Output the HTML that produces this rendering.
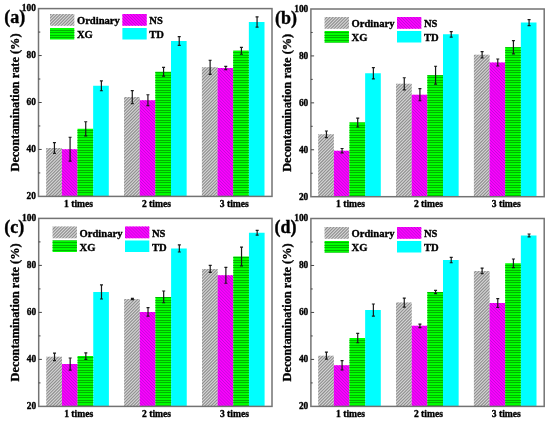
<!DOCTYPE html>
<html><head><meta charset="utf-8"><style>
html,body{margin:0;padding:0;background:#fff;width:550px;height:421px;overflow:hidden}
svg{display:block;filter:blur(0.3px)}
text{font-family:"Liberation Serif", serif;font-weight:bold;fill:#000;stroke:#000;stroke-width:0.35px}
</style></head><body>
<svg width="550" height="421" viewBox="0 0 550 421">
<defs>
<clipPath id="c0"><rect x="46.2" y="148.04" width="15.65" height="48.36"/><rect x="124.05" y="97.1" width="15.65" height="99.3"/><rect x="201.9" y="67.29" width="15.65" height="129.11"/><rect x="50" y="14.1" width="24.3" height="11.7"/><rect x="318.2" y="134.29" width="15.65" height="62.41"/><rect x="396.05" y="83.85" width="15.65" height="112.85"/><rect x="473.9" y="54.75" width="15.65" height="141.95"/><rect x="324.6" y="17.1" width="24.3" height="11.7"/><rect x="46.3" y="356.81" width="15.65" height="49.58"/><rect x="124.15" y="299" width="15.65" height="107.39"/><rect x="202" y="268.93" width="15.65" height="137.47"/><rect x="52.6" y="226.6" width="24.3" height="11.7"/><rect x="318.2" y="355.67" width="15.65" height="50.73"/><rect x="396.05" y="302.59" width="15.65" height="103.81"/><rect x="473.9" y="270.88" width="15.65" height="135.52"/><rect x="324.6" y="227.1" width="24.3" height="11.7"/></clipPath>
<clipPath id="c1"><rect x="61.85" y="149.22" width="15.65" height="47.18"/><rect x="139.7" y="100.15" width="15.65" height="96.25"/><rect x="217.55" y="67.99" width="15.65" height="128.41"/><rect x="122.4" y="14.1" width="24.3" height="11.7"/><rect x="333.85" y="150.71" width="15.65" height="45.99"/><rect x="411.7" y="94.64" width="15.65" height="102.06"/><rect x="489.55" y="62.49" width="15.65" height="134.21"/><rect x="397" y="17.1" width="24.3" height="11.7"/><rect x="61.95" y="364.1" width="15.65" height="42.3"/><rect x="139.8" y="311.93" width="15.65" height="94.47"/><rect x="217.65" y="275.27" width="15.65" height="131.13"/><rect x="125" y="226.6" width="24.3" height="11.7"/><rect x="333.85" y="365.3" width="15.65" height="41.1"/><rect x="411.7" y="325.84" width="15.65" height="80.56"/><rect x="489.55" y="303.05" width="15.65" height="103.35"/><rect x="397" y="227.1" width="24.3" height="11.7"/></clipPath>
<clipPath id="c2"><rect x="77.5" y="128.79" width="15.65" height="67.61"/><rect x="155.35" y="71.75" width="15.65" height="124.65"/><rect x="233.2" y="50.85" width="15.65" height="145.55"/><rect x="50" y="27.9" width="24.3" height="11.7"/><rect x="349.5" y="122.56" width="15.65" height="74.14"/><rect x="427.35" y="75.16" width="15.65" height="121.54"/><rect x="505.2" y="47.24" width="15.65" height="149.46"/><rect x="324.6" y="30.9" width="24.3" height="11.7"/><rect x="77.6" y="356.11" width="15.65" height="50.29"/><rect x="155.45" y="296.89" width="15.65" height="109.51"/><rect x="233.3" y="256.47" width="15.65" height="149.93"/><rect x="52.6" y="240.4" width="24.3" height="11.7"/><rect x="349.5" y="338.05" width="15.65" height="68.35"/><rect x="427.35" y="292.02" width="15.65" height="114.38"/><rect x="505.2" y="263.36" width="15.65" height="143.04"/><rect x="324.6" y="240.9" width="24.3" height="11.7"/></clipPath>
</defs>
<path fill="#d8d8d8" d="M46.2 148.04h15.65v48.36h-15.65zM124.05 97.1h15.65v99.3h-15.65zM201.9 67.29h15.65v129.11h-15.65zM50 14.1h24.3v11.7h-24.3zM318.2 134.29h15.65v62.41h-15.65zM396.05 83.85h15.65v112.85h-15.65zM473.9 54.75h15.65v141.95h-15.65zM324.6 17.1h24.3v11.7h-24.3zM46.3 356.81h15.65v49.58h-15.65zM124.15 299h15.65v107.39h-15.65zM202 268.93h15.65v137.47h-15.65zM52.6 226.6h24.3v11.7h-24.3zM318.2 355.67h15.65v50.73h-15.65zM396.05 302.59h15.65v103.81h-15.65zM473.9 270.88h15.65v135.52h-15.65zM324.6 227.1h24.3v11.7h-24.3z"/>
<path fill="#ff00ff" d="M61.85 149.22h15.65v47.18h-15.65zM139.7 100.15h15.65v96.25h-15.65zM217.55 67.99h15.65v128.41h-15.65zM122.4 14.1h24.3v11.7h-24.3zM333.85 150.71h15.65v45.99h-15.65zM411.7 94.64h15.65v102.06h-15.65zM489.55 62.49h15.65v134.21h-15.65zM397 17.1h24.3v11.7h-24.3zM61.95 364.1h15.65v42.3h-15.65zM139.8 311.93h15.65v94.47h-15.65zM217.65 275.27h15.65v131.13h-15.65zM125 226.6h24.3v11.7h-24.3zM333.85 365.3h15.65v41.1h-15.65zM411.7 325.84h15.65v80.56h-15.65zM489.55 303.05h15.65v103.35h-15.65zM397 227.1h24.3v11.7h-24.3z"/>
<path fill="#00ff00" d="M77.5 128.79h15.65v67.61h-15.65zM155.35 71.75h15.65v124.65h-15.65zM233.2 50.85h15.65v145.55h-15.65zM50 27.9h24.3v11.7h-24.3zM349.5 122.56h15.65v74.14h-15.65zM427.35 75.16h15.65v121.54h-15.65zM505.2 47.24h15.65v149.46h-15.65zM324.6 30.9h24.3v11.7h-24.3zM77.6 356.11h15.65v50.29h-15.65zM155.45 296.89h15.65v109.51h-15.65zM233.3 256.47h15.65v149.93h-15.65zM52.6 240.4h24.3v11.7h-24.3zM349.5 338.05h15.65v68.35h-15.65zM427.35 292.02h15.65v114.38h-15.65zM505.2 263.36h15.65v143.04h-15.65zM324.6 240.9h24.3v11.7h-24.3z"/>
<path fill="#00ffff" d="M93.15 85.83h15.65v110.57h-15.65zM171 41h15.65v155.4h-15.65zM248.85 21.98h15.65v174.42h-15.65zM122.4 27.9h24.3v11.7h-24.3zM365.15 73.29h15.65v123.41h-15.65zM443 34.34h15.65v162.36h-15.65zM520.85 22.61h15.65v174.09h-15.65zM397 30.9h24.3v11.7h-24.3zM93.25 291.95h15.65v114.44h-15.65zM171.1 248.48h15.65v157.92h-15.65zM248.95 232.73h15.65v173.66h-15.65zM125 240.4h24.3v11.7h-24.3zM365.15 310.1h15.65v96.3h-15.65zM443 260.07h15.65v146.33h-15.65zM520.85 235.41h15.65v170.99h-15.65zM397 240.9h24.3v11.7h-24.3z"/>
<path clip-path="url(#c0)" stroke="#8e8e8e" stroke-width="1.1" fill="none" d="M0 0L-421 421M3.1 0L-417.9 421M6.2 0L-414.8 421M9.3 0L-411.7 421M12.4 0L-408.6 421M15.5 0L-405.5 421M18.6 0L-402.4 421M21.7 0L-399.3 421M24.8 0L-396.2 421M27.9 0L-393.1 421M31 0L-390 421M34.1 0L-386.9 421M37.2 0L-383.8 421M40.3 0L-380.7 421M43.4 0L-377.6 421M46.5 0L-374.5 421M49.6 0L-371.4 421M52.7 0L-368.3 421M55.8 0L-365.2 421M58.9 0L-362.1 421M62 0L-359 421M65.1 0L-355.9 421M68.2 0L-352.8 421M71.3 0L-349.7 421M74.4 0L-346.6 421M77.5 0L-343.5 421M80.6 0L-340.4 421M83.7 0L-337.3 421M86.8 0L-334.2 421M89.9 0L-331.1 421M93 0L-328 421M96.1 0L-324.9 421M99.2 0L-321.8 421M102.3 0L-318.7 421M105.4 0L-315.6 421M108.5 0L-312.5 421M111.6 0L-309.4 421M114.7 0L-306.3 421M117.8 0L-303.2 421M120.9 0L-300.1 421M124 0L-297 421M127.1 0L-293.9 421M130.2 0L-290.8 421M133.3 0L-287.7 421M136.4 0L-284.6 421M139.5 0L-281.5 421M142.6 0L-278.4 421M145.7 0L-275.3 421M148.8 0L-272.2 421M151.9 0L-269.1 421M155 0L-266 421M158.1 0L-262.9 421M161.2 0L-259.8 421M164.3 0L-256.7 421M167.4 0L-253.6 421M170.5 0L-250.5 421M173.6 0L-247.4 421M176.7 0L-244.3 421M179.8 0L-241.2 421M182.9 0L-238.1 421M186 0L-235 421M189.1 0L-231.9 421M192.2 0L-228.8 421M195.3 0L-225.7 421M198.4 0L-222.6 421M201.5 0L-219.5 421M204.6 0L-216.4 421M207.7 0L-213.3 421M210.8 0L-210.2 421M213.9 0L-207.1 421M217 0L-204 421M220.1 0L-200.9 421M223.2 0L-197.8 421M226.3 0L-194.7 421M229.4 0L-191.6 421M232.5 0L-188.5 421M235.6 0L-185.4 421M238.7 0L-182.3 421M241.8 0L-179.2 421M244.9 0L-176.1 421M248 0L-173 421M251.1 0L-169.9 421M254.2 0L-166.8 421M257.3 0L-163.7 421M260.4 0L-160.6 421M263.5 0L-157.5 421M266.6 0L-154.4 421M269.7 0L-151.3 421M272.8 0L-148.2 421M275.9 0L-145.1 421M279 0L-142 421M282.1 0L-138.9 421M285.2 0L-135.8 421M288.3 0L-132.7 421M291.4 0L-129.6 421M294.5 0L-126.5 421M297.6 0L-123.4 421M300.7 0L-120.3 421M303.8 0L-117.2 421M306.9 0L-114.1 421M310 0L-111 421M313.1 0L-107.9 421M316.2 0L-104.8 421M319.3 0L-101.7 421M322.4 0L-98.6 421M325.5 0L-95.5 421M328.6 0L-92.4 421M331.7 0L-89.3 421M334.8 0L-86.2 421M337.9 0L-83.1 421M341 0L-80 421M344.1 0L-76.9 421M347.2 0L-73.8 421M350.3 0L-70.7 421M353.4 0L-67.6 421M356.5 0L-64.5 421M359.6 0L-61.4 421M362.7 0L-58.3 421M365.8 0L-55.2 421M368.9 0L-52.1 421M372 0L-49 421M375.1 0L-45.9 421M378.2 0L-42.8 421M381.3 0L-39.7 421M384.4 0L-36.6 421M387.5 0L-33.5 421M390.6 0L-30.4 421M393.7 0L-27.3 421M396.8 0L-24.2 421M399.9 0L-21.1 421M403 0L-18 421M406.1 0L-14.9 421M409.2 0L-11.8 421M412.3 0L-8.7 421M415.4 0L-5.6 421M418.5 0L-2.5 421M421.6 0L0.6 421M424.7 0L3.7 421M427.8 0L6.8 421M430.9 0L9.9 421M434 0L13 421M437.1 0L16.1 421M440.2 0L19.2 421M443.3 0L22.3 421M446.4 0L25.4 421M449.5 0L28.5 421M452.6 0L31.6 421M455.7 0L34.7 421M458.8 0L37.8 421M461.9 0L40.9 421M465 0L44 421M468.1 0L47.1 421M471.2 0L50.2 421M474.3 0L53.3 421M477.4 0L56.4 421M480.5 0L59.5 421M483.6 0L62.6 421M486.7 0L65.7 421M489.8 0L68.8 421M492.9 0L71.9 421M496 0L75 421M499.1 0L78.1 421M502.2 0L81.2 421M505.3 0L84.3 421M508.4 0L87.4 421M511.5 0L90.5 421M514.6 0L93.6 421M517.7 0L96.7 421M520.8 0L99.8 421M523.9 0L102.9 421M527 0L106 421M530.1 0L109.1 421M533.2 0L112.2 421M536.3 0L115.3 421M539.4 0L118.4 421M542.5 0L121.5 421M545.6 0L124.6 421M548.7 0L127.7 421M551.8 0L130.8 421M554.9 0L133.9 421M558 0L137 421M561.1 0L140.1 421M564.2 0L143.2 421M567.3 0L146.3 421M570.4 0L149.4 421M573.5 0L152.5 421M576.6 0L155.6 421M579.7 0L158.7 421M582.8 0L161.8 421M585.9 0L164.9 421M589 0L168 421M592.1 0L171.1 421M595.2 0L174.2 421M598.3 0L177.3 421M601.4 0L180.4 421M604.5 0L183.5 421M607.6 0L186.6 421M610.7 0L189.7 421M613.8 0L192.8 421M616.9 0L195.9 421M620 0L199 421M623.1 0L202.1 421M626.2 0L205.2 421M629.3 0L208.3 421M632.4 0L211.4 421M635.5 0L214.5 421M638.6 0L217.6 421M641.7 0L220.7 421M644.8 0L223.8 421M647.9 0L226.9 421M651 0L230 421M654.1 0L233.1 421M657.2 0L236.2 421M660.3 0L239.3 421M663.4 0L242.4 421M666.5 0L245.5 421M669.6 0L248.6 421M672.7 0L251.7 421M675.8 0L254.8 421M678.9 0L257.9 421M682 0L261 421M685.1 0L264.1 421M688.2 0L267.2 421M691.3 0L270.3 421M694.4 0L273.4 421M697.5 0L276.5 421M700.6 0L279.6 421M703.7 0L282.7 421M706.8 0L285.8 421M709.9 0L288.9 421M713 0L292 421M716.1 0L295.1 421M719.2 0L298.2 421M722.3 0L301.3 421M725.4 0L304.4 421M728.5 0L307.5 421M731.6 0L310.6 421M734.7 0L313.7 421M737.8 0L316.8 421M740.9 0L319.9 421M744 0L323 421M747.1 0L326.1 421M750.2 0L329.2 421M753.3 0L332.3 421M756.4 0L335.4 421M759.5 0L338.5 421M762.6 0L341.6 421M765.7 0L344.7 421M768.8 0L347.8 421M771.9 0L350.9 421M775 0L354 421M778.1 0L357.1 421M781.2 0L360.2 421M784.3 0L363.3 421M787.4 0L366.4 421M790.5 0L369.5 421M793.6 0L372.6 421M796.7 0L375.7 421M799.8 0L378.8 421M802.9 0L381.9 421M806 0L385 421M809.1 0L388.1 421M812.2 0L391.2 421M815.3 0L394.3 421M818.4 0L397.4 421M821.5 0L400.5 421M824.6 0L403.6 421M827.7 0L406.7 421M830.8 0L409.8 421M833.9 0L412.9 421M837 0L416 421M840.1 0L419.1 421M843.2 0L422.2 421M846.3 0L425.3 421M849.4 0L428.4 421M852.5 0L431.5 421M855.6 0L434.6 421M858.7 0L437.7 421M861.8 0L440.8 421M864.9 0L443.9 421M868 0L447 421M871.1 0L450.1 421M874.2 0L453.2 421M877.3 0L456.3 421M880.4 0L459.4 421M883.5 0L462.5 421M886.6 0L465.6 421M889.7 0L468.7 421M892.8 0L471.8 421M895.9 0L474.9 421M899 0L478 421M902.1 0L481.1 421M905.2 0L484.2 421M908.3 0L487.3 421M911.4 0L490.4 421M914.5 0L493.5 421M917.6 0L496.6 421M920.7 0L499.7 421M923.8 0L502.8 421M926.9 0L505.9 421M930 0L509 421M933.1 0L512.1 421M936.2 0L515.2 421M939.3 0L518.3 421M942.4 0L521.4 421M945.5 0L524.5 421M948.6 0L527.6 421M951.7 0L530.7 421M954.8 0L533.8 421M957.9 0L536.9 421M961 0L540 421M964.1 0L543.1 421M967.2 0L546.2 421M970.3 0L549.3 421M973.4 0L552.4 421"/>
<path clip-path="url(#c1)" stroke="#bc10d8" stroke-width="1.0" fill="none" d="M-426 0L-5 421M-422.92 0L-1.92 421M-419.84 0L1.16 421M-416.76 0L4.24 421M-413.68 0L7.32 421M-410.6 0L10.4 421M-407.52 0L13.48 421M-404.44 0L16.56 421M-401.36 0L19.64 421M-398.28 0L22.72 421M-395.2 0L25.8 421M-392.12 0L28.88 421M-389.04 0L31.96 421M-385.96 0L35.04 421M-382.88 0L38.12 421M-379.8 0L41.2 421M-376.72 0L44.28 421M-373.64 0L47.36 421M-370.56 0L50.44 421M-367.48 0L53.52 421M-364.4 0L56.6 421M-361.32 0L59.68 421M-358.24 0L62.76 421M-355.16 0L65.84 421M-352.08 0L68.92 421M-349 0L72 421M-345.92 0L75.08 421M-342.84 0L78.16 421M-339.76 0L81.24 421M-336.68 0L84.32 421M-333.6 0L87.4 421M-330.52 0L90.48 421M-327.44 0L93.56 421M-324.36 0L96.64 421M-321.28 0L99.72 421M-318.2 0L102.8 421M-315.12 0L105.88 421M-312.04 0L108.96 421M-308.96 0L112.04 421M-305.88 0L115.12 421M-302.8 0L118.2 421M-299.72 0L121.28 421M-296.64 0L124.36 421M-293.56 0L127.44 421M-290.48 0L130.52 421M-287.4 0L133.6 421M-284.32 0L136.68 421M-281.24 0L139.76 421M-278.16 0L142.84 421M-275.08 0L145.92 421M-272 0L149 421M-268.92 0L152.08 421M-265.84 0L155.16 421M-262.76 0L158.24 421M-259.68 0L161.32 421M-256.6 0L164.4 421M-253.52 0L167.48 421M-250.44 0L170.56 421M-247.36 0L173.64 421M-244.28 0L176.72 421M-241.2 0L179.8 421M-238.12 0L182.88 421M-235.04 0L185.96 421M-231.96 0L189.04 421M-228.88 0L192.12 421M-225.8 0L195.2 421M-222.72 0L198.28 421M-219.64 0L201.36 421M-216.56 0L204.44 421M-213.48 0L207.52 421M-210.4 0L210.6 421M-207.32 0L213.68 421M-204.24 0L216.76 421M-201.16 0L219.84 421M-198.08 0L222.92 421M-195 0L226 421M-191.92 0L229.08 421M-188.84 0L232.16 421M-185.76 0L235.24 421M-182.68 0L238.32 421M-179.6 0L241.4 421M-176.52 0L244.48 421M-173.44 0L247.56 421M-170.36 0L250.64 421M-167.28 0L253.72 421M-164.2 0L256.8 421M-161.12 0L259.88 421M-158.04 0L262.96 421M-154.96 0L266.04 421M-151.88 0L269.12 421M-148.8 0L272.2 421M-145.72 0L275.28 421M-142.64 0L278.36 421M-139.56 0L281.44 421M-136.48 0L284.52 421M-133.4 0L287.6 421M-130.32 0L290.68 421M-127.24 0L293.76 421M-124.16 0L296.84 421M-121.08 0L299.92 421M-118 0L303 421M-114.92 0L306.08 421M-111.84 0L309.16 421M-108.76 0L312.24 421M-105.68 0L315.32 421M-102.6 0L318.4 421M-99.52 0L321.48 421M-96.44 0L324.56 421M-93.36 0L327.64 421M-90.28 0L330.72 421M-87.2 0L333.8 421M-84.12 0L336.88 421M-81.04 0L339.96 421M-77.96 0L343.04 421M-74.88 0L346.12 421M-71.8 0L349.2 421M-68.72 0L352.28 421M-65.64 0L355.36 421M-62.56 0L358.44 421M-59.48 0L361.52 421M-56.4 0L364.6 421M-53.32 0L367.68 421M-50.24 0L370.76 421M-47.16 0L373.84 421M-44.08 0L376.92 421M-41 0L380 421M-37.92 0L383.08 421M-34.84 0L386.16 421M-31.76 0L389.24 421M-28.68 0L392.32 421M-25.6 0L395.4 421M-22.52 0L398.48 421M-19.44 0L401.56 421M-16.36 0L404.64 421M-13.28 0L407.72 421M-10.2 0L410.8 421M-7.12 0L413.88 421M-4.04 0L416.96 421M-0.96 0L420.04 421M2.12 0L423.12 421M5.2 0L426.2 421M8.28 0L429.28 421M11.36 0L432.36 421M14.44 0L435.44 421M17.52 0L438.52 421M20.6 0L441.6 421M23.68 0L444.68 421M26.76 0L447.76 421M29.84 0L450.84 421M32.92 0L453.92 421M36 0L457 421M39.08 0L460.08 421M42.16 0L463.16 421M45.24 0L466.24 421M48.32 0L469.32 421M51.4 0L472.4 421M54.48 0L475.48 421M57.56 0L478.56 421M60.64 0L481.64 421M63.72 0L484.72 421M66.8 0L487.8 421M69.88 0L490.88 421M72.96 0L493.96 421M76.04 0L497.04 421M79.12 0L500.12 421M82.2 0L503.2 421M85.28 0L506.28 421M88.36 0L509.36 421M91.44 0L512.44 421M94.52 0L515.52 421M97.6 0L518.6 421M100.68 0L521.68 421M103.76 0L524.76 421M106.84 0L527.84 421M109.92 0L530.92 421M113 0L534 421M116.08 0L537.08 421M119.16 0L540.16 421M122.24 0L543.24 421M125.32 0L546.32 421M128.4 0L549.4 421M131.48 0L552.48 421M134.56 0L555.56 421M137.64 0L558.64 421M140.72 0L561.72 421M143.8 0L564.8 421M146.88 0L567.88 421M149.96 0L570.96 421M153.04 0L574.04 421M156.12 0L577.12 421M159.2 0L580.2 421M162.28 0L583.28 421M165.36 0L586.36 421M168.44 0L589.44 421M171.52 0L592.52 421M174.6 0L595.6 421M177.68 0L598.68 421M180.76 0L601.76 421M183.84 0L604.84 421M186.92 0L607.92 421M190 0L611 421M193.08 0L614.08 421M196.16 0L617.16 421M199.24 0L620.24 421M202.32 0L623.32 421M205.4 0L626.4 421M208.48 0L629.48 421M211.56 0L632.56 421M214.64 0L635.64 421M217.72 0L638.72 421M220.8 0L641.8 421M223.88 0L644.88 421M226.96 0L647.96 421M230.04 0L651.04 421M233.12 0L654.12 421M236.2 0L657.2 421M239.28 0L660.28 421M242.36 0L663.36 421M245.44 0L666.44 421M248.52 0L669.52 421M251.6 0L672.6 421M254.68 0L675.68 421M257.76 0L678.76 421M260.84 0L681.84 421M263.92 0L684.92 421M267 0L688 421M270.08 0L691.08 421M273.16 0L694.16 421M276.24 0L697.24 421M279.32 0L700.32 421M282.4 0L703.4 421M285.48 0L706.48 421M288.56 0L709.56 421M291.64 0L712.64 421M294.72 0L715.72 421M297.8 0L718.8 421M300.88 0L721.88 421M303.96 0L724.96 421M307.04 0L728.04 421M310.12 0L731.12 421M313.2 0L734.2 421M316.28 0L737.28 421M319.36 0L740.36 421M322.44 0L743.44 421M325.52 0L746.52 421M328.6 0L749.6 421M331.68 0L752.68 421M334.76 0L755.76 421M337.84 0L758.84 421M340.92 0L761.92 421M344 0L765 421M347.08 0L768.08 421M350.16 0L771.16 421M353.24 0L774.24 421M356.32 0L777.32 421M359.4 0L780.4 421M362.48 0L783.48 421M365.56 0L786.56 421M368.64 0L789.64 421M371.72 0L792.72 421M374.8 0L795.8 421M377.88 0L798.88 421M380.96 0L801.96 421M384.04 0L805.04 421M387.12 0L808.12 421M390.2 0L811.2 421M393.28 0L814.28 421M396.36 0L817.36 421M399.44 0L820.44 421M402.52 0L823.52 421M405.6 0L826.6 421M408.68 0L829.68 421M411.76 0L832.76 421M414.84 0L835.84 421M417.92 0L838.92 421M421 0L842 421M424.08 0L845.08 421M427.16 0L848.16 421M430.24 0L851.24 421M433.32 0L854.32 421M436.4 0L857.4 421M439.48 0L860.48 421M442.56 0L863.56 421M445.64 0L866.64 421M448.72 0L869.72 421M451.8 0L872.8 421M454.88 0L875.88 421M457.96 0L878.96 421M461.04 0L882.04 421M464.12 0L885.12 421M467.2 0L888.2 421M470.28 0L891.28 421M473.36 0L894.36 421M476.44 0L897.44 421M479.52 0L900.52 421M482.6 0L903.6 421M485.68 0L906.68 421M488.76 0L909.76 421M491.84 0L912.84 421M494.92 0L915.92 421M498 0L919 421M501.08 0L922.08 421M504.16 0L925.16 421M507.24 0L928.24 421M510.32 0L931.32 421M513.4 0L934.4 421M516.48 0L937.48 421M519.56 0L940.56 421M522.64 0L943.64 421M525.72 0L946.72 421M528.8 0L949.8 421M531.88 0L952.88 421M534.96 0L955.96 421M538.04 0L959.04 421M541.12 0L962.12 421M544.2 0L965.2 421M547.28 0L968.28 421M550.36 0L971.36 421M553.44 0L974.44 421"/>
<path clip-path="url(#c2)" stroke="#00b400" stroke-width="1.0" fill="none" d="M0 0.5H550M0 2.5H550M0 5.5H550M0 7.5H550M0 10.5H550M0 12.5H550M0 15.5H550M0 17.5H550M0 20.5H550M0 22.5H550M0 25.5H550M0 27.5H550M0 30.5H550M0 32.5H550M0 35.5H550M0 37.5H550M0 40.5H550M0 42.5H550M0 45.5H550M0 47.5H550M0 50.5H550M0 52.5H550M0 55.5H550M0 57.5H550M0 60.5H550M0 62.5H550M0 65.5H550M0 67.5H550M0 70.5H550M0 72.5H550M0 75.5H550M0 77.5H550M0 80.5H550M0 82.5H550M0 85.5H550M0 87.5H550M0 90.5H550M0 92.5H550M0 95.5H550M0 97.5H550M0 100.5H550M0 102.5H550M0 105.5H550M0 107.5H550M0 110.5H550M0 112.5H550M0 115.5H550M0 117.5H550M0 120.5H550M0 122.5H550M0 125.5H550M0 127.5H550M0 130.5H550M0 132.5H550M0 135.5H550M0 137.5H550M0 140.5H550M0 142.5H550M0 145.5H550M0 147.5H550M0 150.5H550M0 152.5H550M0 155.5H550M0 157.5H550M0 160.5H550M0 162.5H550M0 165.5H550M0 167.5H550M0 170.5H550M0 172.5H550M0 175.5H550M0 177.5H550M0 180.5H550M0 182.5H550M0 185.5H550M0 187.5H550M0 190.5H550M0 192.5H550M0 195.5H550M0 197.5H550M0 200.5H550M0 202.5H550M0 205.5H550M0 207.5H550M0 210.5H550M0 212.5H550M0 215.5H550M0 217.5H550M0 220.5H550M0 222.5H550M0 225.5H550M0 227.5H550M0 230.5H550M0 232.5H550M0 235.5H550M0 237.5H550M0 240.5H550M0 242.5H550M0 245.5H550M0 247.5H550M0 250.5H550M0 252.5H550M0 255.5H550M0 257.5H550M0 260.5H550M0 262.5H550M0 265.5H550M0 267.5H550M0 270.5H550M0 272.5H550M0 275.5H550M0 277.5H550M0 280.5H550M0 282.5H550M0 285.5H550M0 287.5H550M0 290.5H550M0 292.5H550M0 295.5H550M0 297.5H550M0 300.5H550M0 302.5H550M0 305.5H550M0 307.5H550M0 310.5H550M0 312.5H550M0 315.5H550M0 317.5H550M0 320.5H550M0 322.5H550M0 325.5H550M0 327.5H550M0 330.5H550M0 332.5H550M0 335.5H550M0 337.5H550M0 340.5H550M0 342.5H550M0 345.5H550M0 347.5H550M0 350.5H550M0 352.5H550M0 355.5H550M0 357.5H550M0 360.5H550M0 362.5H550M0 365.5H550M0 367.5H550M0 370.5H550M0 372.5H550M0 375.5H550M0 377.5H550M0 380.5H550M0 382.5H550M0 385.5H550M0 387.5H550M0 390.5H550M0 392.5H550M0 395.5H550M0 397.5H550M0 400.5H550M0 402.5H550M0 405.5H550M0 407.5H550M0 410.5H550M0 412.5H550M0 415.5H550M0 417.5H550M0 420.5H550"/>
<path d="M54.43 142.64V153.44M52.93 142.64H55.93M52.93 153.44H55.93" stroke="#1a1a1a" stroke-width="1.2" fill="none"/>
<path d="M70.08 137.24V161.19M68.58 137.24H71.58M68.58 161.19H71.58" stroke="#1a1a1a" stroke-width="1.2" fill="none"/>
<path d="M85.73 121.75V135.83M84.23 121.75H87.23M84.23 135.83H87.23" stroke="#1a1a1a" stroke-width="1.2" fill="none"/>
<path d="M101.38 80.9V90.76M99.88 80.9H102.88M99.88 90.76H102.88" stroke="#1a1a1a" stroke-width="1.2" fill="none"/>
<path d="M132.28 90.53V103.67M130.78 90.53H133.78M130.78 103.67H133.78" stroke="#1a1a1a" stroke-width="1.2" fill="none"/>
<path d="M147.92 94.75V105.55M146.42 94.75H149.42M146.42 105.55H149.42" stroke="#1a1a1a" stroke-width="1.2" fill="none"/>
<path d="M163.57 67.29V76.21M162.07 67.29H165.07M162.07 76.21H165.07" stroke="#1a1a1a" stroke-width="1.2" fill="none"/>
<path d="M179.22 36.54V45.46M177.72 36.54H180.72M177.72 45.46H180.72" stroke="#1a1a1a" stroke-width="1.2" fill="none"/>
<path d="M210.12 60.25V74.33M208.62 60.25H211.62M208.62 74.33H211.62" stroke="#1a1a1a" stroke-width="1.2" fill="none"/>
<path d="M225.77 66.35V69.63M224.27 66.35H227.27M224.27 69.63H227.27" stroke="#1a1a1a" stroke-width="1.2" fill="none"/>
<path d="M241.42 47.45V54.26M239.92 47.45H242.92M239.92 54.26H242.92" stroke="#1a1a1a" stroke-width="1.2" fill="none"/>
<path d="M257.07 16.82V27.15M255.57 16.82H258.57M255.57 27.15H258.57" stroke="#1a1a1a" stroke-width="1.2" fill="none"/>
<rect x="38.5" y="8.6" width="233.5" height="187.8" fill="none" stroke="#737373" stroke-width="1.5"/>
<text x="35.9" y="199.2" text-anchor="end" font-size="9.4">20</text>
<path d="M38.5 172.93H40.3" stroke="#444" stroke-width="1"/>
<path d="M38.5 149.45H41.7" stroke="#444" stroke-width="1"/>
<text x="35.9" y="152.25" text-anchor="end" font-size="9.4">40</text>
<path d="M38.5 125.97H40.3" stroke="#444" stroke-width="1"/>
<path d="M38.5 102.5H41.7" stroke="#444" stroke-width="1"/>
<text x="35.9" y="105.3" text-anchor="end" font-size="9.4">60</text>
<path d="M38.5 79.03H40.3" stroke="#444" stroke-width="1"/>
<path d="M38.5 55.55H41.7" stroke="#444" stroke-width="1"/>
<text x="35.9" y="58.35" text-anchor="end" font-size="9.4">80</text>
<path d="M38.5 32.07H40.3" stroke="#444" stroke-width="1"/>
<text x="35.9" y="11.4" text-anchor="end" font-size="9.4">100</text>
<text x="78.6" y="207" text-anchor="middle" font-size="9.6">1 times</text>
<text x="156.45" y="207" text-anchor="middle" font-size="9.6">2 times</text>
<text x="234.3" y="207" text-anchor="middle" font-size="9.6">3 times</text>
<text transform="translate(18.9,102.5) rotate(-90)" text-anchor="middle" font-size="12.3">Decontamination rate (%)</text>
<text transform="translate(4.3,23.3)" font-size="18">(a)</text>
<text x="76.9" y="24.2" font-size="10.6">Ordinary</text>
<text x="149.3" y="24.2" font-size="10.6">NS</text>
<text x="76.9" y="38" font-size="10.6">XG</text>
<text x="149.3" y="38" font-size="10.6">TD</text>
<path d="M326.42 131V137.57M324.92 131H327.92M324.92 137.57H327.92" stroke="#1a1a1a" stroke-width="1.2" fill="none"/>
<path d="M342.07 148.48V152.94M340.57 148.48H343.57M340.57 152.94H343.57" stroke="#1a1a1a" stroke-width="1.2" fill="none"/>
<path d="M357.72 118.1V127.02M356.22 118.1H359.22M356.22 127.02H359.22" stroke="#1a1a1a" stroke-width="1.2" fill="none"/>
<path d="M373.37 67.66V78.92M371.87 67.66H374.87M371.87 78.92H374.87" stroke="#1a1a1a" stroke-width="1.2" fill="none"/>
<path d="M404.27 77.75V89.95M402.77 77.75H405.77M402.77 89.95H405.77" stroke="#1a1a1a" stroke-width="1.2" fill="none"/>
<path d="M419.92 88.54V100.74M418.42 88.54H421.42M418.42 100.74H421.42" stroke="#1a1a1a" stroke-width="1.2" fill="none"/>
<path d="M435.57 66.25V84.08M434.07 66.25H437.07M434.07 84.08H437.07" stroke="#1a1a1a" stroke-width="1.2" fill="none"/>
<path d="M451.22 31.64V37.04M449.72 31.64H452.72M449.72 37.04H452.72" stroke="#1a1a1a" stroke-width="1.2" fill="none"/>
<path d="M482.12 51.7V57.8M480.62 51.7H483.62M480.62 57.8H483.62" stroke="#1a1a1a" stroke-width="1.2" fill="none"/>
<path d="M497.77 58.98V66.01M496.27 58.98H499.27M496.27 66.01H499.27" stroke="#1a1a1a" stroke-width="1.2" fill="none"/>
<path d="M513.42 40.67V53.81M511.92 40.67H514.92M511.92 53.81H514.92" stroke="#1a1a1a" stroke-width="1.2" fill="none"/>
<path d="M529.08 19.56V25.66M527.58 19.56H530.58M527.58 25.66H530.58" stroke="#1a1a1a" stroke-width="1.2" fill="none"/>
<rect x="310.9" y="9" width="233.3" height="187.7" fill="none" stroke="#737373" stroke-width="1.5"/>
<text x="308.3" y="199.5" text-anchor="end" font-size="9.4">20</text>
<path d="M310.9 173.24H312.7" stroke="#444" stroke-width="1"/>
<path d="M310.9 149.77H314.1" stroke="#444" stroke-width="1"/>
<text x="308.3" y="152.57" text-anchor="end" font-size="9.4">40</text>
<path d="M310.9 126.31H312.7" stroke="#444" stroke-width="1"/>
<path d="M310.9 102.85H314.1" stroke="#444" stroke-width="1"/>
<text x="308.3" y="105.65" text-anchor="end" font-size="9.4">60</text>
<path d="M310.9 79.39H312.7" stroke="#444" stroke-width="1"/>
<path d="M310.9 55.92H314.1" stroke="#444" stroke-width="1"/>
<text x="308.3" y="58.72" text-anchor="end" font-size="9.4">80</text>
<path d="M310.9 32.46H312.7" stroke="#444" stroke-width="1"/>
<text x="308.3" y="11.8" text-anchor="end" font-size="9.4">100</text>
<text x="350.6" y="207.3" text-anchor="middle" font-size="9.6">1 times</text>
<text x="428.45" y="207.3" text-anchor="middle" font-size="9.6">2 times</text>
<text x="506.3" y="207.3" text-anchor="middle" font-size="9.6">3 times</text>
<text transform="translate(291.3,102.85) rotate(-90)" text-anchor="middle" font-size="12.3">Decontamination rate (%)</text>
<text transform="translate(274.9,23.7)" font-size="18">(b)</text>
<text x="351.5" y="27.2" font-size="10.6">Ordinary</text>
<text x="423.9" y="27.2" font-size="10.6">NS</text>
<text x="351.5" y="41" font-size="10.6">XG</text>
<text x="423.9" y="41" font-size="10.6">TD</text>
<path d="M54.52 353.05V360.57M53.02 353.05H56.02M53.02 360.57H56.02" stroke="#1a1a1a" stroke-width="1.2" fill="none"/>
<path d="M70.17 357.99V370.21M68.67 357.99H71.67M68.67 370.21H71.67" stroke="#1a1a1a" stroke-width="1.2" fill="none"/>
<path d="M85.83 352.82V359.4M84.33 352.82H87.33M84.33 359.4H87.33" stroke="#1a1a1a" stroke-width="1.2" fill="none"/>
<path d="M101.48 284.9V299M99.98 284.9H102.98M99.98 299H102.98" stroke="#1a1a1a" stroke-width="1.2" fill="none"/>
<path d="M132.38 298.3V299.71M130.88 298.3H133.88M130.88 299.71H133.88" stroke="#1a1a1a" stroke-width="1.2" fill="none"/>
<path d="M148.02 307.7V316.16M146.52 307.7H149.52M146.52 316.16H149.52" stroke="#1a1a1a" stroke-width="1.2" fill="none"/>
<path d="M163.67 291.01V302.76M162.17 291.01H165.17M162.17 302.76H165.17" stroke="#1a1a1a" stroke-width="1.2" fill="none"/>
<path d="M179.32 244.95V252M177.82 244.95H180.82M177.82 252H180.82" stroke="#1a1a1a" stroke-width="1.2" fill="none"/>
<path d="M210.22 265.4V272.45M208.72 265.4H211.72M208.72 272.45H211.72" stroke="#1a1a1a" stroke-width="1.2" fill="none"/>
<path d="M225.88 267.28V283.26M224.38 267.28H227.38M224.38 283.26H227.38" stroke="#1a1a1a" stroke-width="1.2" fill="none"/>
<path d="M241.53 247.07V265.87M240.03 247.07H243.03M240.03 265.87H243.03" stroke="#1a1a1a" stroke-width="1.2" fill="none"/>
<path d="M257.17 230.38V235.08M255.67 230.38H258.67M255.67 235.08H258.67" stroke="#1a1a1a" stroke-width="1.2" fill="none"/>
<rect x="38.7" y="218.4" width="233.3" height="188" fill="none" stroke="#737373" stroke-width="1.5"/>
<text x="36.1" y="409.2" text-anchor="end" font-size="9.4">20</text>
<path d="M38.7 382.9H40.5" stroke="#444" stroke-width="1"/>
<path d="M38.7 359.4H41.9" stroke="#444" stroke-width="1"/>
<text x="36.1" y="362.2" text-anchor="end" font-size="9.4">40</text>
<path d="M38.7 335.9H40.5" stroke="#444" stroke-width="1"/>
<path d="M38.7 312.4H41.9" stroke="#444" stroke-width="1"/>
<text x="36.1" y="315.2" text-anchor="end" font-size="9.4">60</text>
<path d="M38.7 288.9H40.5" stroke="#444" stroke-width="1"/>
<path d="M38.7 265.4H41.9" stroke="#444" stroke-width="1"/>
<text x="36.1" y="268.2" text-anchor="end" font-size="9.4">80</text>
<path d="M38.7 241.9H40.5" stroke="#444" stroke-width="1"/>
<text x="36.1" y="221.2" text-anchor="end" font-size="9.4">100</text>
<text x="78.7" y="417" text-anchor="middle" font-size="9.6">1 times</text>
<text x="156.55" y="417" text-anchor="middle" font-size="9.6">2 times</text>
<text x="234.4" y="417" text-anchor="middle" font-size="9.6">3 times</text>
<text transform="translate(19.1,312.4) rotate(-90)" text-anchor="middle" font-size="12.3">Decontamination rate (%)</text>
<text transform="translate(4.3,233.1)" font-size="18">(c)</text>
<text x="79.5" y="236.7" font-size="10.6">Ordinary</text>
<text x="151.9" y="236.7" font-size="10.6">NS</text>
<text x="79.5" y="250.5" font-size="10.6">XG</text>
<text x="151.9" y="250.5" font-size="10.6">TD</text>
<path d="M326.42 352.14V359.19M324.92 352.14H327.92M324.92 359.19H327.92" stroke="#1a1a1a" stroke-width="1.2" fill="none"/>
<path d="M342.07 360.6V369.99M340.57 360.6H343.57M340.57 369.99H343.57" stroke="#1a1a1a" stroke-width="1.2" fill="none"/>
<path d="M357.72 333.35V342.75M356.22 333.35H359.22M356.22 342.75H359.22" stroke="#1a1a1a" stroke-width="1.2" fill="none"/>
<path d="M373.37 303.99V316.21M371.87 303.99H374.87M371.87 316.21H374.87" stroke="#1a1a1a" stroke-width="1.2" fill="none"/>
<path d="M404.27 298.12V307.05M402.77 298.12H405.77M402.77 307.05H405.77" stroke="#1a1a1a" stroke-width="1.2" fill="none"/>
<path d="M419.92 324.08V327.6M418.42 324.08H421.42M418.42 327.6H421.42" stroke="#1a1a1a" stroke-width="1.2" fill="none"/>
<path d="M435.57 290.47V293.57M434.07 290.47H437.07M434.07 293.57H437.07" stroke="#1a1a1a" stroke-width="1.2" fill="none"/>
<path d="M451.22 257.37V262.77M449.72 257.37H452.72M449.72 262.77H452.72" stroke="#1a1a1a" stroke-width="1.2" fill="none"/>
<path d="M482.12 268.06V273.7M480.62 268.06H483.62M480.62 273.7H483.62" stroke="#1a1a1a" stroke-width="1.2" fill="none"/>
<path d="M497.77 298.59V307.52M496.27 298.59H499.27M496.27 307.52H499.27" stroke="#1a1a1a" stroke-width="1.2" fill="none"/>
<path d="M513.42 259.02V267.71M511.92 259.02H514.92M511.92 267.71H514.92" stroke="#1a1a1a" stroke-width="1.2" fill="none"/>
<path d="M529.08 234V236.82M527.58 234H530.58M527.58 236.82H530.58" stroke="#1a1a1a" stroke-width="1.2" fill="none"/>
<rect x="310.9" y="218.5" width="233.3" height="187.9" fill="none" stroke="#737373" stroke-width="1.5"/>
<text x="308.3" y="409.2" text-anchor="end" font-size="9.4">20</text>
<path d="M310.9 382.91H312.7" stroke="#444" stroke-width="1"/>
<path d="M310.9 359.42H314.1" stroke="#444" stroke-width="1"/>
<text x="308.3" y="362.22" text-anchor="end" font-size="9.4">40</text>
<path d="M310.9 335.94H312.7" stroke="#444" stroke-width="1"/>
<path d="M310.9 312.45H314.1" stroke="#444" stroke-width="1"/>
<text x="308.3" y="315.25" text-anchor="end" font-size="9.4">60</text>
<path d="M310.9 288.96H312.7" stroke="#444" stroke-width="1"/>
<path d="M310.9 265.48H314.1" stroke="#444" stroke-width="1"/>
<text x="308.3" y="268.28" text-anchor="end" font-size="9.4">80</text>
<path d="M310.9 241.99H312.7" stroke="#444" stroke-width="1"/>
<text x="308.3" y="221.3" text-anchor="end" font-size="9.4">100</text>
<text x="350.6" y="417" text-anchor="middle" font-size="9.6">1 times</text>
<text x="428.45" y="417" text-anchor="middle" font-size="9.6">2 times</text>
<text x="506.3" y="417" text-anchor="middle" font-size="9.6">3 times</text>
<text transform="translate(291.3,312.45) rotate(-90)" text-anchor="middle" font-size="12.3">Decontamination rate (%)</text>
<text transform="translate(274.5,233.2)" font-size="18">(d)</text>
<text x="351.5" y="237.2" font-size="10.6">Ordinary</text>
<text x="423.9" y="237.2" font-size="10.6">NS</text>
<text x="351.5" y="251" font-size="10.6">XG</text>
<text x="423.9" y="251" font-size="10.6">TD</text>
</svg>
</body></html>
